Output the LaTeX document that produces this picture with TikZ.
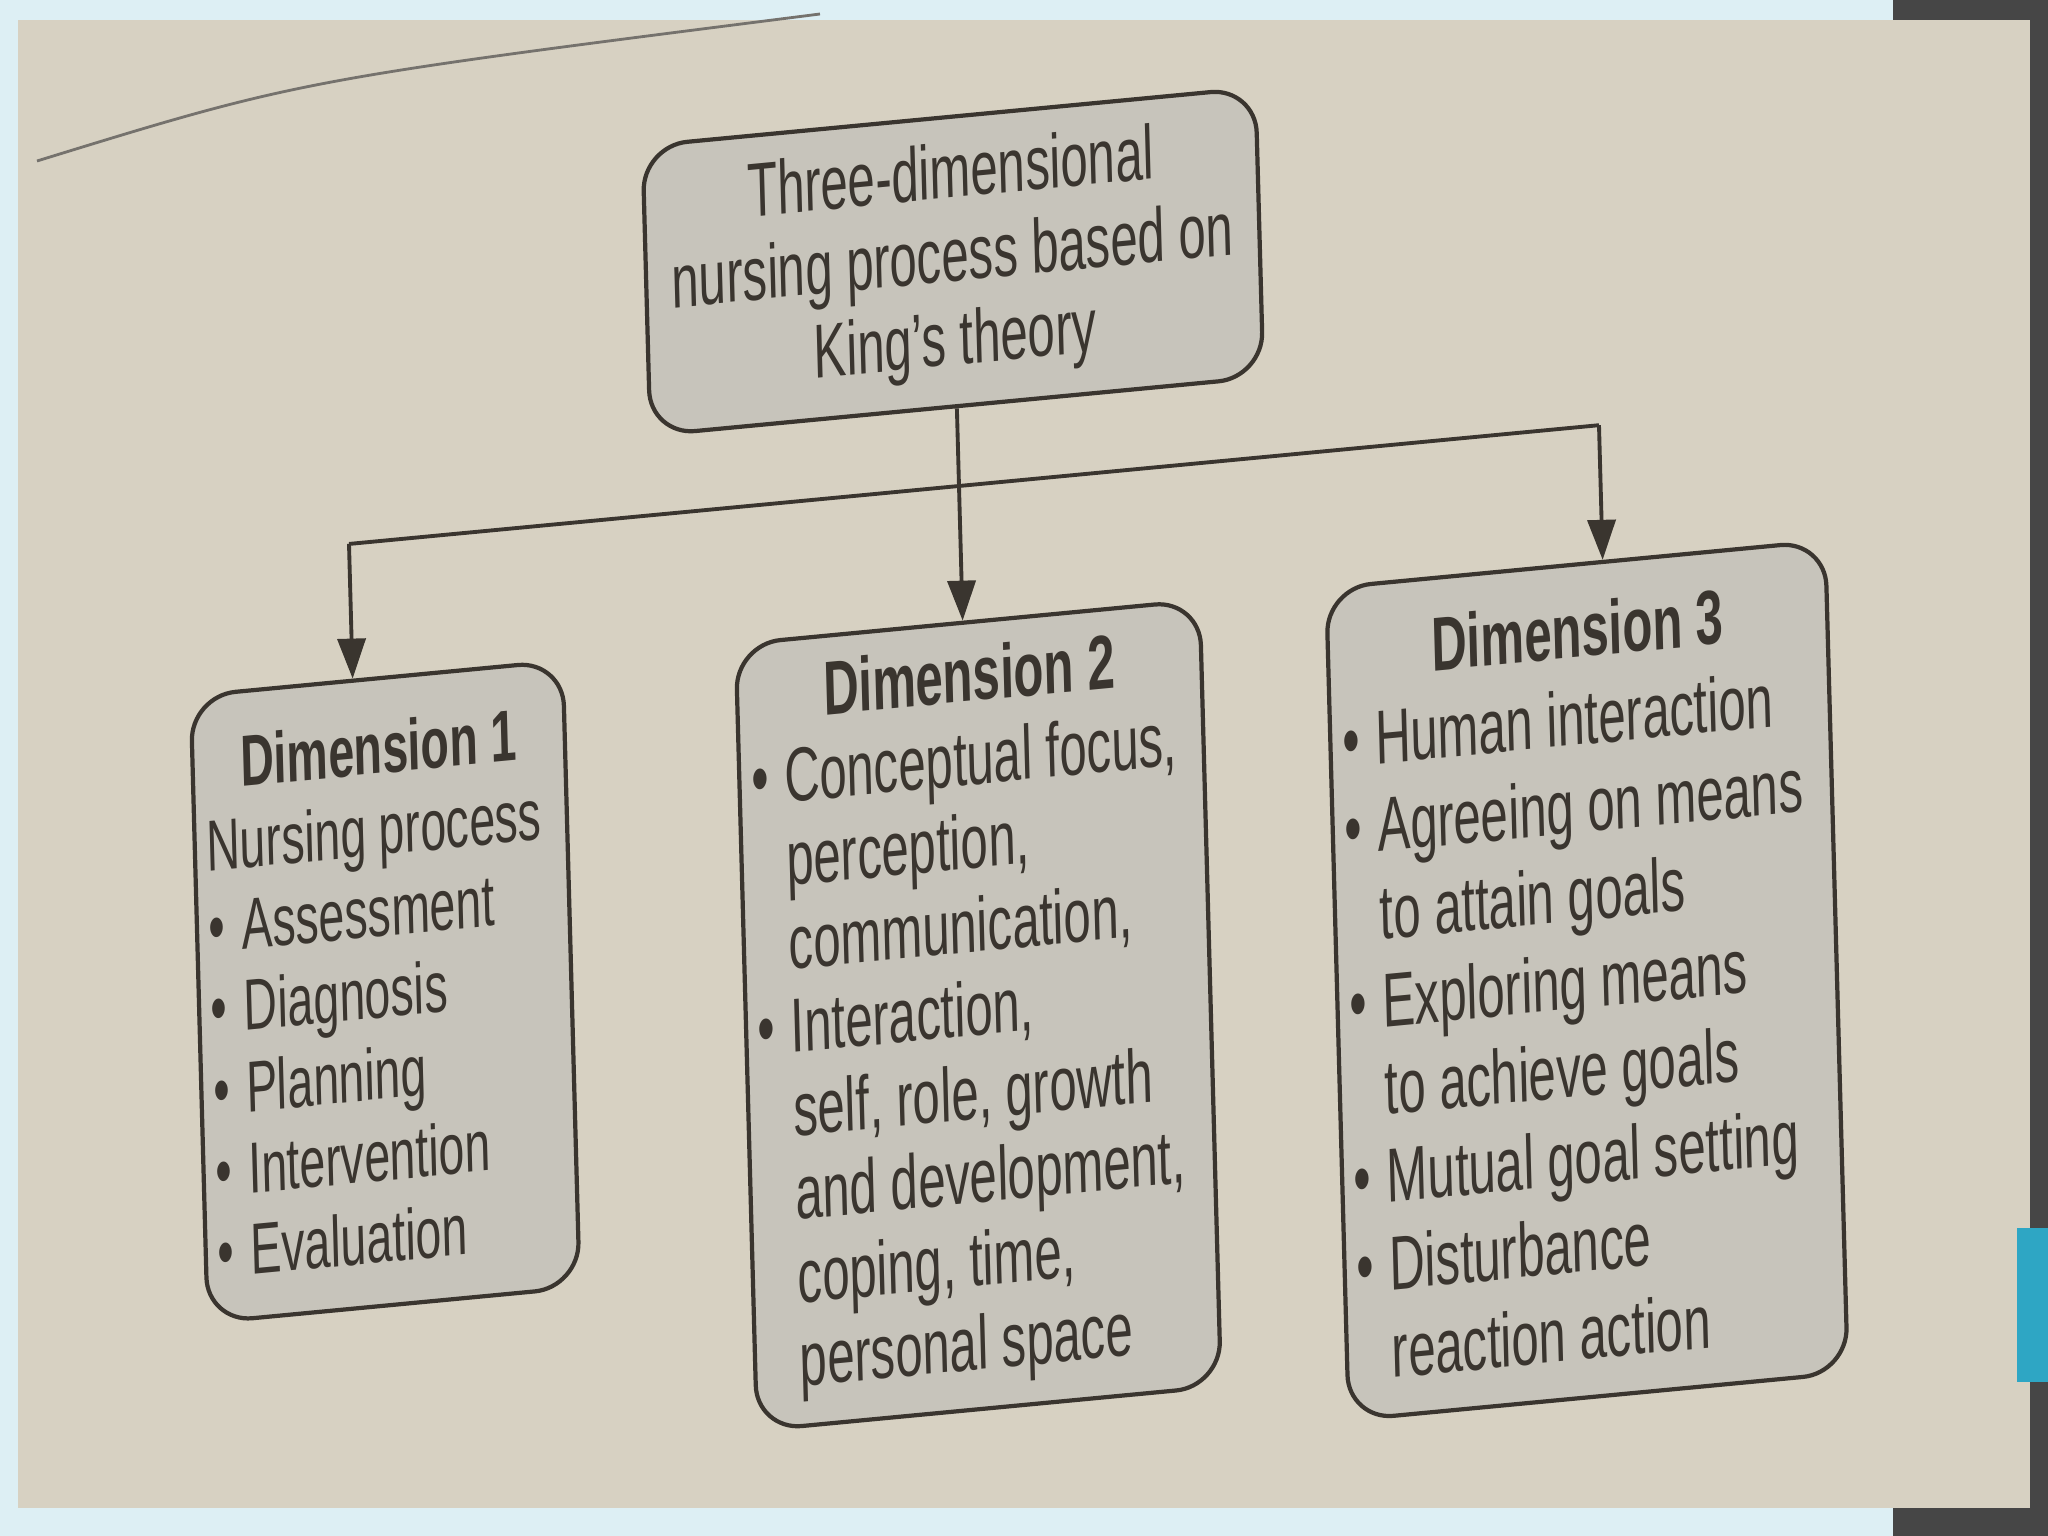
\documentclass[tikz,border=0pt]{standalone}
\usepackage{fontspec}
\setmainfont{Liberation Sans}[FakeStretch=0.64]
\usetikzlibrary{arrows.meta}

\definecolor{pagecol}{RGB}{215,209,194}
\definecolor{boxcol}{RGB}{199,196,187}
\definecolor{inkcol}{RGB}{58,53,47}
\definecolor{skycol}{RGB}{221,239,244}
\definecolor{darkcol}{RGB}{70,70,70}
\definecolor{barcol}{RGB}{46,166,196}

\newcommand{\dimhead}[1]{\hfill\textbf{#1}\hfill\null}
\newcommand{\itembul}{\makebox[0.33cm][l]{•}}
\newcommand{\itemind}{\hspace*{0.33cm}}

\begin{document}
\begin{tikzpicture}
[thick,%
  every node/.style={text=inkcol,font=\fontsize{21.8}{23.8}\selectfont},%
  roundbox/.style={draw=inkcol,line width=1.2pt,fill=boxcol,rounded corners=0.45cm,
    inner xsep=0.12cm,inner ysep=0.1cm},%
  dimbox/.style={roundbox,anchor=north,align=flush left},%
  link/.style={draw=inkcol,line width=1.1pt},%
  tip/.style={-{Triangle[length=0.4cm,width=0.28cm]}}]
\useasboundingbox (0,-15.36) rectangle (20.48,0);
% page of the book
\fill[skycol] (0,-15.36) rectangle (20.48,0);
\fill[darkcol] (18.93,-15.36) rectangle (20.48,0);
\fill[pagecol] (0.18,-15.08) rectangle (20.3,-0.2);
\fill[barcol] (20.17,-13.82) rectangle (20.48,-12.28);
\draw[inkcol!70,line width=0.8pt] (0.37,-1.61) .. controls (3,-0.8) .. (8.2,-0.14);
% tilted diagram
\begin{scope}[shift={(9.59,-4.86)},yslant=0.095,xslant=-0.027,transform shape]
\node[roundbox,align=center,minimum width=6.13cm,minimum height=2.9cm] (top) at (0,2.25)
  {Three-dimensional\\nursing process based on\\King's theory};
\node[dimbox,font=\fontsize{20.6}{23.2}\selectfont,text width=3.48cm,minimum height=6.28cm]
  (dim1) at (-5.86,-1.35)
  {\dimhead{Dimension 1}\\
   Nursing process\\
   \itembul Assessment\\
   \itembul Diagnosis\\
   \itembul Planning\\
   \itembul Intervention\\
   \itembul Evaluation};
\node[dimbox,text width=4.4cm,minimum height=7.88cm] (dim2) at (0.05,-1.35)
  {\dimhead{Dimension 2}\\
   \itembul Conceptual focus,\\
   \itemind perception,\\
   \itemind communication,\\
   \itembul Interaction,\\
   \itemind self, role, growth\\
   \itemind and development,\\
   \itemind coping, time,\\
   \itemind personal space};
\node[dimbox,font=\fontsize{21.8}{25}\selectfont,text width=4.75cm,minimum height=8.34cm]
  (dim3) at (6.13,-1.35)
  {\dimhead{Dimension 3}\\
   \itembul Human interaction\\
   \itembul Agreeing on means\\
   \itemind to attain goals\\
   \itembul Exploring means\\
   \itemind to achieve goals\\
   \itembul Mutual goal setting\\
   \itembul Disturbance\\
   \itemind reaction action};
\coordinate (jL) at (-6.1,0);
\coordinate (jM) at (0,0);
\coordinate (jR) at (6.4,0);
\draw[link] (top.south) -- (jM);
\draw[link] (jL) -- (jR);
\draw[link,tip] (jL) -- (jL |- dim1.north);
\draw[link,tip] (jM) -- (jM |- dim2.north);
\draw[link,tip] (jR) -- (jR |- dim3.north);
\end{scope}
\end{tikzpicture}
\end{document}
